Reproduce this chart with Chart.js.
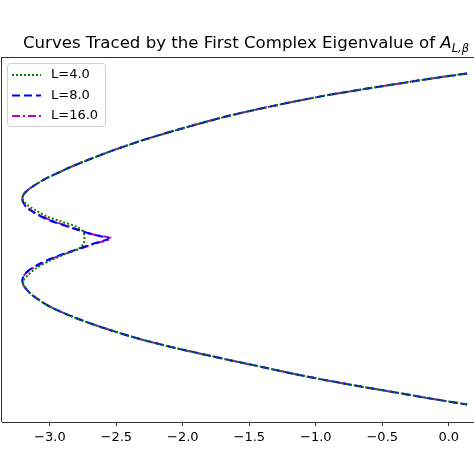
<!DOCTYPE html>
<html>
<head>
<meta charset="utf-8">
<script src="https://cdn.jsdelivr.net/npm/chart.js@4/dist/chart.umd.min.js"></script>
<style>
  html, body { margin: 0; padding: 0; background: #fff; }
  #wrap { width: 474px; height: 474px; }
</style>
</head>
<body>
<div id="wrap"><canvas id="myChart" width="474" height="474"></canvas></div>
<script>
'use strict';

const xTicks = [-3.0, -2.5, -2.0, -1.5, -1.0, -0.5, 0.0];

const l4X = [0.138, -0.139, -0.389, -0.641, -0.892, -1.142, -1.394, -1.645, -1.795, -2.046, -2.297, -2.548,
  -2.799, -2.925, -3.05, -3.151, -3.195, -3.207, -3.17, -3.11, -3.02, -2.91, -2.8, -2.75, -2.74,
  -2.745, -2.78, -2.87, -2.99, -3.1, -3.165, -3.2, -3.195, -3.15, -3.1, -3.0, -2.799, -2.548, -2.297,
  -2.046, -1.795, -1.645, -1.394, -1.142, -0.892, -0.641, -0.389, -0.139, 0.138];
const l4Y = [1.655, 1.603, 1.551, 1.498, 1.443, 1.38, 1.31, 1.235, 1.183, 1.09, 0.99, 0.875,
  0.745, 0.67, 0.59, 0.505, 0.45, 0.40, 0.34, 0.29, 0.225, 0.173, 0.123, 0.075, 0.02,
  -0.045, -0.093, -0.143, -0.21, -0.29, -0.36, -0.42, -0.47, -0.54, -0.593, -0.677, -0.793, -0.91, -1.01,
  -1.093, -1.168, -1.212, -1.283, -1.355, -1.42, -1.48, -1.537, -1.595, -1.655];

const l8X = [0.138, -0.139, -0.389, -0.641, -0.892, -1.142, -1.394, -1.645, -1.795, -2.046, -2.297, -2.548,
  -2.799, -2.925, -3.05, -3.151, -3.195, -3.207, -3.19, -3.15, -3.08, -3.0, -2.9, -2.8, -2.68, -2.56,
  -2.68, -2.8, -2.9, -3.0, -3.08, -3.15, -3.19, -3.207, -3.195, -3.15, -3.1, -3.0, -2.799, -2.548, -2.297,
  -2.046, -1.795, -1.645, -1.394, -1.142, -0.892, -0.641, -0.389, -0.139, 0.138];
const l8Y = [1.655, 1.603, 1.551, 1.498, 1.443, 1.38, 1.31, 1.235, 1.183, 1.09, 0.99, 0.875,
  0.745, 0.67, 0.59, 0.505, 0.45, 0.40, 0.34, 0.29, 0.235, 0.185, 0.14, 0.095, 0.045, 0.005,
  -0.05, -0.105, -0.15, -0.2, -0.25, -0.305, -0.355, -0.415, -0.47, -0.54, -0.593, -0.677, -0.793, -0.91, -1.01,
  -1.093, -1.168, -1.212, -1.283, -1.355, -1.42, -1.48, -1.537, -1.595, -1.655];

const l16X = [0.138, -0.139, -0.389, -0.641, -0.892, -1.142, -1.394, -1.645, -1.795, -2.046, -2.297, -2.548,
  -2.799, -2.925, -3.05, -3.151, -3.195, -3.207, -3.19, -3.145, -3.07, -2.99, -2.89, -2.79, -2.67, -2.54,
  -2.67, -2.79, -2.89, -2.99, -3.07, -3.145, -3.19, -3.207, -3.195, -3.15, -3.1, -3.0, -2.799, -2.548, -2.297,
  -2.046, -1.795, -1.645, -1.394, -1.142, -0.892, -0.641, -0.389, -0.139, 0.138];
const l16Y = [1.655, 1.603, 1.551, 1.498, 1.443, 1.38, 1.31, 1.235, 1.183, 1.09, 0.99, 0.875,
  0.745, 0.67, 0.59, 0.505, 0.45, 0.40, 0.34, 0.29, 0.235, 0.185, 0.14, 0.095, 0.045, 0.005,
  -0.05, -0.105, -0.15, -0.2, -0.25, -0.305, -0.355, -0.415, -0.47, -0.54, -0.593, -0.677, -0.793, -0.91, -1.01,
  -1.093, -1.168, -1.212, -1.283, -1.355, -1.42, -1.48, -1.537, -1.595, -1.655];

const seriesLabels = ['L=4.0', 'L=8.0', 'L=16.0'];
const seriesColors = ['#008000', '#0000ff', '#bf00bf'];
const seriesDash = [[2, 2], [8, 4], [8, 3, 2, 3]];

function toPoints(xs, ys) {
  return xs.map(function (x, i) { return { x: x, y: ys[i] }; });
}

const FONT = '"DejaVu Sans", sans-serif';

// title with math-style subscript, plus the axes frame and the legend box
const extras = {
  id: 'extras',
  afterDraw: function (chart) {
    const ctx = chart.ctx;
    const area = chart.chartArea;
    ctx.save();

    // spines: top and left (bottom one is the x axis border)
    ctx.strokeStyle = '#333';
    ctx.lineWidth = 1;
    ctx.beginPath();
    ctx.moveTo(area.left, area.top + 0.5);
    ctx.lineTo(474, area.top + 0.5);
    ctx.moveTo(area.left - 0.5, area.top);
    ctx.lineTo(area.left - 0.5, area.bottom);
    ctx.stroke();

    // title
    const main = 'Curves Traced by the First Complex Eigenvalue of ';
    const size = 16.6;
    ctx.fillStyle = '#000';
    ctx.textBaseline = 'alphabetic';
    ctx.textAlign = 'left';
    ctx.font = size + 'px ' + FONT;
    const wMain = ctx.measureText(main).width;
    ctx.font = 'italic ' + size + 'px ' + FONT;
    const wA = ctx.measureText('A').width;
    ctx.font = 'italic 11.5px ' + FONT;
    const wSub = ctx.measureText('L,β').width;
    const x0 = 246 - (wMain + wA + wSub) / 2;
    const base = 48;
    ctx.font = size + 'px ' + FONT;
    ctx.fillText(main, x0, base);
    ctx.font = 'italic ' + size + 'px ' + FONT;
    ctx.fillText('A', x0 + wMain, base);
    ctx.font = 'italic 11.5px ' + FONT;
    ctx.fillText('L,β', x0 + wMain + wA, base + 4);

    // legend
    const lx = 7.5, ly = 63.5, lw = 98, lh = 63;
    ctx.beginPath();
    ctx.roundRect(lx, ly, lw, lh, 3);
    ctx.fillStyle = 'rgba(255,255,255,0.8)';
    ctx.fill();
    ctx.strokeStyle = '#d0d0d0';
    ctx.lineWidth = 1;
    ctx.stroke();
    ctx.font = '13px ' + FONT;
    ctx.textBaseline = 'middle';
    for (let i = 0; i < seriesLabels.length; i++) {
      const yy = 75 + i * 20.5;
      ctx.strokeStyle = seriesColors[i];
      ctx.lineWidth = 2;
      ctx.setLineDash(seriesDash[i]);
      ctx.beginPath();
      ctx.moveTo(12, yy);
      ctx.lineTo(41, yy);
      ctx.stroke();
      ctx.setLineDash([]);
      ctx.fillStyle = '#000';
      ctx.fillText(seriesLabels[i], 51, yy);
    }
    ctx.restore();
  }
};

const datasets = [
  { data: toPoints(l4X, l4Y) },
  { data: toPoints(l8X, l8Y) },
  { data: toPoints(l16X, l16Y) }
].map(function (d, i) {
  d.label = seriesLabels[i];
  d.borderColor = seriesColors[i];
  d.borderDash = seriesDash[i];
  d.borderWidth = 2;
  d.showLine = true;
  d.fill = false;
  d.pointRadius = 0;
  d.tension = 0.3;
  return d;
});

const myChart = new Chart(document.getElementById('myChart'), {
  type: 'scatter',
  data: { datasets: datasets },
  plugins: [extras],
  options: {
    responsive: false,
    animation: false,
    layout: { padding: { top: 57, left: 2, right: 0, bottom: 0 } },
    plugins: {
      legend: { display: false },
      title: { display: false },
      tooltip: { enabled: false }
    },
    scales: {
      x: {
        type: 'linear',
        min: -3.36,
        max: 0.19,
        afterBuildTicks: function (scale) {
          scale.ticks = xTicks.map(function (v) { return { value: v }; });
        },
        afterFit: function (scale) { scale.height = 52; },
        grid: { display: true, drawOnChartArea: false, drawTicks: true, tickLength: 4, color: '#333' },
        border: { display: true, color: '#333', width: 1 },
        ticks: {
          color: '#000',
          padding: 4,
          maxRotation: 0,
          autoSkip: false,
          font: { family: FONT, size: 13 },
          callback: function (v) { return v.toFixed(1).replace('-', '\u2212'); }
        }
      },
      y: {
        display: false,
        min: -1.83,
        max: 1.82
      }
    }
  }
});
</script>
</body>
</html>
